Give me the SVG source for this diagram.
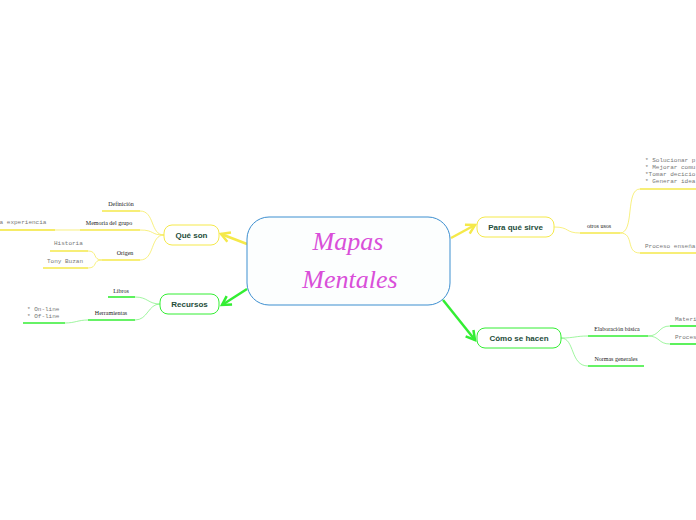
<svg xmlns="http://www.w3.org/2000/svg" width="696" height="520" viewBox="0 0 696 520">
<defs>
<style>
.n{font-family:"Liberation Sans",Arial,sans-serif;font-weight:bold;font-size:8px;fill:#1e4d3a;text-anchor:middle}
.s{font-family:"Liberation Serif",serif;font-size:6px;fill:#222;text-anchor:middle}
.m{font-family:"Liberation Mono",monospace;font-size:6px;fill:#777}
.y{stroke:#f5e94a;fill:none}
.g{stroke:#33ee33;fill:none}
.yl{stroke:#f5e94a;fill:none;stroke-width:0.7}
.gl{stroke:#77f077;fill:none;stroke-width:0.7}
.yu{stroke:#f5e94a;stroke-width:1.6}
.gu{stroke:#33ee33;stroke-width:1.6}
</style>
<marker id="ay" viewBox="0 0 10 10" refX="8" refY="5" markerWidth="5" markerHeight="5" orient="auto"><path d="M1,1 L8,5 L1,9" fill="none" stroke="#f5e94a" stroke-width="2"/></marker>
<marker id="ag" viewBox="0 0 10 10" refX="8" refY="5" markerWidth="5" markerHeight="5" orient="auto"><path d="M1,1 L8,5 L1,9" fill="none" stroke="#33ee33" stroke-width="2"/></marker>
</defs>
<rect width="696" height="520" fill="#fff"/>
<g id="connectors">
<path d="M247,244 L221,234" class="y" stroke-width="2.5" marker-end="url(#ay)"/>
<path d="M247,289 L222,305" class="g" stroke-width="2.5" marker-end="url(#ag)"/>
<path d="M451,238 L475,225" class="y" stroke-width="2.5" marker-end="url(#ay)"/>
<path d="M443,300 L475,340" class="g" stroke-width="2.5" marker-end="url(#ag)"/>
<path d="M164,235 C150,235 155,211 140,211" class="yl"/>
<path d="M164,235 C150,235 155,230 140,230" class="yl"/>
<path d="M164,235 C150,235 155,260 140,260" class="yl"/>
<path d="M102,260 C92,260 98,251 88,251" class="yl"/>
<path d="M102,260 C92,260 98,268 88,268" class="yl"/>
<path d="M80,230 L0,230" class="yl"/>
<path d="M160,304 C148,304 148,297 135,297" class="gl"/>
<path d="M160,304 C148,304 148,320 135,320" class="gl"/>
<path d="M88,320 C78,320 75,323 65,323" class="gl"/>
<path d="M554,227 C570,227 565,233 580,233" class="yl"/>
<path d="M620,233 C635,233 625,189 640,189" class="yl"/>
<path d="M620,233 C635,233 625,253 640,253" class="yl"/>
<path d="M561,338 C575,338 575,336 588,336" class="gl"/>
<path d="M561,338 C575,338 570,366 588,366" class="gl"/>
<path d="M648,336 C660,336 658,326 670,326" class="gl"/>
<path d="M648,336 C660,336 658,344 670,344" class="gl"/>
</g>
<g id="center">
<rect x="247" y="217" width="203" height="88" rx="22" fill="#fcfefe" stroke="#3d8fd0" stroke-width="1"/>
<text x="348" y="250" font-family="'Liberation Serif',serif" font-style="italic" font-size="26" fill="#d94fd9" text-anchor="middle">Mapas</text>
<text x="350" y="288" font-family="'Liberation Serif',serif" font-style="italic" font-size="26" fill="#d94fd9" text-anchor="middle">Mentales</text>
</g>
<g id="que-son"><rect x="164" y="225" width="55" height="20" rx="8" fill="#fff" stroke="#f5e94a"/><text x="191.5" y="238" class="n">Qué son</text></g>
<g id="recursos"><rect x="160" y="294" width="59" height="20" rx="8" fill="#fff" stroke="#33ee33"/><text x="189.5" y="307" class="n">Recursos</text></g>
<g id="para-que"><rect x="477" y="217" width="77" height="20" rx="8" fill="#fff" stroke="#f5e94a"/><text x="515.5" y="230" class="n">Para qué sirve</text></g>
<g id="como"><rect x="477" y="328" width="84" height="20" rx="8" fill="#fff" stroke="#33ee33"/><text x="519" y="341" class="n">Cómo se hacen</text></g>
<g id="definicion"><line x1="102" y1="211" x2="140" y2="211" class="yu"/><text x="121" y="206" class="s">Definición</text></g>
<g id="memoria"><line x1="80" y1="230" x2="140" y2="230" class="yu"/><text x="109" y="225" class="s">Memoria del grupo</text></g>
<g id="experiencia"><line x1="0" y1="230" x2="55" y2="230" class="yu"/><text x="-4" y="224" class="m">ra experiencia</text></g>
<g id="origen"><line x1="102" y1="260" x2="140" y2="260" class="yu"/><text x="125" y="255" class="s">Origen</text></g>
<g id="historia"><line x1="50" y1="251" x2="88" y2="251" class="yu"/><text x="54" y="245" class="m">Historia</text></g>
<g id="tony"><line x1="43" y1="268" x2="88" y2="268" class="yu"/><text x="47" y="263" class="m">Tony Buzan</text></g>
<g id="libros"><line x1="108" y1="297" x2="135" y2="297" class="gu"/><text x="121" y="293" class="s">Libros</text></g>
<g id="herramientas"><line x1="88" y1="320" x2="135" y2="320" class="gu"/><text x="111" y="315" class="s">Herramientas</text></g>
<g id="online"><line x1="23" y1="323" x2="65" y2="323" class="gu"/><text x="27" y="311" class="m">* On-line</text><text x="27" y="318" class="m">* Of-line</text></g>
<g id="otros"><line x1="580" y1="233" x2="620" y2="233" class="yu"/><text x="599" y="228" class="s">otros usos</text></g>
<g id="usos"><line x1="640" y1="189" x2="696" y2="189" class="yu"/><text x="645" y="162" class="m">* Solucionar p</text><text x="645" y="169" class="m">* Mejorar comu</text><text x="645" y="176" class="m">*Tomar decicio</text><text x="645" y="183" class="m">* Generar idea</text></g>
<g id="proceso"><line x1="640" y1="253" x2="696" y2="253" class="yu"/><text x="645" y="248" class="m">Proceso enseña</text></g>
<g id="elaboracion"><line x1="588" y1="336" x2="648" y2="336" class="gu"/><text x="617" y="331" class="s">Elaboración básica</text></g>
<g id="normas"><line x1="588" y1="366" x2="644" y2="366" class="gu"/><text x="616" y="361" class="s">Normas generales</text></g>
<g id="materi"><line x1="670" y1="326" x2="696" y2="326" class="gu"/><text x="675" y="321" class="m">Materi</text></g>
<g id="proces"><line x1="670" y1="344" x2="696" y2="344" class="gu"/><text x="675" y="339" class="m">Proces</text></g>
</svg>
